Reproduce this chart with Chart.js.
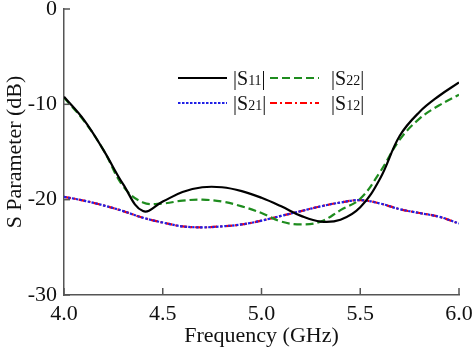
<!DOCTYPE html>
<html><head><meta charset="utf-8">
<script src="https://cdn.jsdelivr.net/npm/chart.js@4/dist/chart.umd.min.js"></script>
<style>html,body{margin:0;padding:0;background:#fff;}canvas{display:block;}</style>
</head><body>
<canvas id="c" width="474" height="351"></canvas>
<script>
const freq = [4.0,4.1,4.2,4.3,4.4,4.5,4.6,4.7,4.8,4.9,5.0,5.1,5.2,5.3,5.4,5.5,5.6,5.7,5.8,5.9,6.0];
const s11 = [-9.2,-11.6,-14.8,-18.4,-21.2,-20.2,-19.2,-18.7,-18.7,-19.1,-19.8,-20.7,-21.7,-22.3,-22.1,-20.8,-17.8,-13.3,-10.8,-9.1,-7.7];
const s22 = [-9.3,-11.7,-14.8,-18.6,-20.3,-20.4,-20.1,-20.0,-20.2,-20.7,-21.4,-22.3,-22.6,-22.3,-21.1,-19.9,-17.1,-13.7,-11.5,-10.1,-9.0];
const s21 = [-19.7,-20.1,-20.6,-21.2,-21.9,-22.4,-22.8,-22.9,-22.8,-22.6,-22.2,-21.7,-21.2,-20.7,-20.3,-20.05,-20.4,-21.0,-21.4,-21.8,-22.5];
const s12 = [-19.7,-20.1,-20.6,-21.2,-21.9,-22.4,-22.8,-22.9,-22.8,-22.6,-22.2,-21.7,-21.2,-20.7,-20.3,-20.05,-20.4,-21.0,-21.4,-21.8,-22.5];
const xTicks = [4.0,4.5,5.0,5.5,6.0];
const yTicks = [-30,-20,-10,0];
const legendItems = [
  {label:'11', color:'#000000', dash:[], col:0, row:0},
  {label:'22', color:'#1e8c1e', dash:[8,4], col:1, row:0},
  {label:'21', color:'#2020e6', dash:[2.5,1.5], col:0, row:1},
  {label:'12', color:'#ff0000', dash:[7,3,2,3], col:1, row:1}
];

const FONT = "'Liberation Serif', 'Times New Roman', serif";
const pts = ys => freq.map((f,i)=>({x:f,y:ys[i]}));

const inwardTicks = {
  id:'inwardTicks',
  afterDraw(chart){
    const ctx = chart.ctx, xs = chart.scales.x, ys = chart.scales.y;
    const a = chart.chartArea;
    ctx.save();
    ctx.strokeStyle = '#555'; ctx.lineWidth = 1.5; ctx.setLineDash([]);
    xTicks.forEach(v=>{const p=xs.getPixelForValue(v);ctx.beginPath();ctx.moveTo(p,a.bottom);ctx.lineTo(p,a.bottom-7);ctx.stroke();});
    yTicks.forEach(v=>{const p=ys.getPixelForValue(v);ctx.beginPath();ctx.moveTo(a.left,p);ctx.lineTo(a.left+6,p);ctx.stroke();});
    // legend
    const colX=[178,270], rowY=[78,103], lineLen=49, textGap=6;
    legendItems.forEach(it=>{
      const x0=colX[it.col], y=rowY[it.row];
      ctx.strokeStyle=it.color; ctx.lineWidth=2.2; ctx.setLineDash(it.dash);
      ctx.beginPath(); ctx.moveTo(x0,y); ctx.lineTo(x0+lineLen,y); ctx.stroke();
      ctx.setLineDash([]);
      ctx.fillStyle='#111'; ctx.textBaseline='alphabetic'; ctx.textAlign='left';
      let tx = x0+lineLen+textGap + (it.col===1?6:0);
      const base = y+7;
      ctx.font = '20px '+FONT;
      ctx.fillText('|S', tx, base); tx += ctx.measureText('|S').width;
      ctx.font = '14px '+FONT;
      ctx.fillText(it.label, tx, base); tx += ctx.measureText(it.label).width;
      ctx.font = '20px '+FONT;
      ctx.fillText('|', tx, base);
    });
    ctx.restore();
  }
};

new Chart(document.getElementById('c'), {
  type:'line',
  data:{datasets:[
    {label:'|S11|', data:pts(s11), borderColor:'#000000', borderWidth:2.2, borderDash:[], order:1},
    {label:'|S22|', data:pts(s22), borderColor:'#1e8c1e', borderWidth:2.2, borderDash:[8,4], order:2},
    {label:'|S21|', data:pts(s21), borderColor:'#2020e6', borderWidth:2.2, borderDash:[2.5,1.5], order:3},
    {label:'|S12|', data:pts(s12), borderColor:'#ff0000', borderWidth:2.2, borderDash:[7,3,2,3], order:4}
  ]},
  options:{
    responsive:false, animation:false,
    layout:{padding:{top:9,right:15,left:0,bottom:0}},
    elements:{point:{radius:0}, line:{tension:0.4, fill:false}},
    plugins:{legend:{display:false}, tooltip:{enabled:false}},
    scales:{
      x:{type:'linear', min:4, max:6,
        afterBuildTicks(s){s.ticks = xTicks.map(v=>({value:v}));},
        afterFit(s){s.height=56; s.paddingLeft=0; s.paddingRight=0;},
        grid:{display:false, drawTicks:false},
        border:{display:true, color:'#555', width:1.5},
        ticks:{color:'#111', font:{family:FONT,size:22}, padding:6, maxRotation:0, callback:v=>Number(v).toFixed(1)},
        title:{display:true, text:'Frequency (GHz)', color:'#111', font:{family:FONT,size:22}, padding:{top:0,bottom:2}}
      },
      y:{type:'linear', min:-30, max:0,
        afterBuildTicks(s){s.ticks = yTicks.map(v=>({value:v}));},
        afterFit(s){s.width=64; s.paddingTop=0; s.paddingBottom=0;},
        grid:{display:false, drawTicks:false},
        border:{display:true, color:'#555', width:1.5},
        ticks:{color:'#111', font:{family:FONT,size:22}, padding:7},
        title:{display:true, text:'S Parameter (dB)', color:'#111', font:{family:FONT,size:22}, padding:{top:2,bottom:0}}
      }
    }
  },
  plugins:[inwardTicks]
});
</script>
</body></html>
